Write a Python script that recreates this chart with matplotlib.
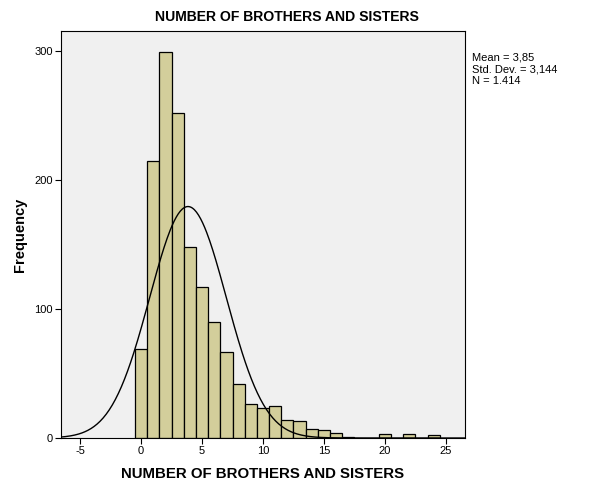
import numpy as np
import matplotlib
matplotlib.use("Agg")
import matplotlib.pyplot as plt

plt.rcParams['font.family'] = ['Liberation Sans', 'DejaVu Sans']
plt.rcParams['axes.unicode_minus'] = False

# number of siblings (bin centre) and count per bin
siblings = list(range(0, 25))
counts = [69, 215, 299, 252, 148, 117, 90, 67, 42, 26, 23, 25, 14, 13,
          7, 6, 4, 1, 0, 0, 3, 0, 3, 0, 2]
mean, sd, n = 3.85, 3.144, 1414

x_ticks = [-5, 0, 5, 10, 15, 20, 25]
y_ticks = [0, 100, 200, 300]

fig = plt.figure(figsize=(5.92, 4.92), dpi=100)
ax = fig.add_axes([61 / 592, 1 - 438 / 492, (465 - 61) / 592, (438 - 31) / 492])
ax.set_facecolor('#f0f0f0')

ax.bar(siblings, counts, width=1.0, color='#d3ce9b', edgecolor='black', linewidth=0.9)

# fitted normal curve
xs = np.linspace(-6.6, 26.6, 400)
ys = n * 1.0 * np.exp(-0.5 * ((xs - mean) / sd) ** 2) / (sd * np.sqrt(2 * np.pi))
ax.plot(xs, ys, color='black', linewidth=1.0)

ax.set_xlim(-6.56, 26.56)
ax.set_ylim(0, 315.5)
ax.set_xticks(x_ticks)
ax.set_yticks(y_ticks)
ax.tick_params(labelsize=8, length=4, width=0.8, pad=2)
for s in ax.spines.values():
    s.set_linewidth(0.8)

ax.set_xlabel('NUMBER OF BROTHERS AND SISTERS', fontsize=10.8, fontweight='bold', labelpad=8)
ax.set_ylabel('Frequency', fontsize=10.5, fontweight='bold', labelpad=5)
fig.text(287 / 592, 1 - 17 / 492, 'NUMBER OF BROTHERS AND SISTERS', fontsize=10.1,
         fontweight='bold', ha='center', va='center')

fig.text(472 / 592, 1 - 52 / 492,
         'Mean = 3,85\nStd. Dev. = 3,144\nN = 1.414',
         fontsize=8, ha='left', va='top', linespacing=1.25)

fig.savefig('out.png', dpi=100)
